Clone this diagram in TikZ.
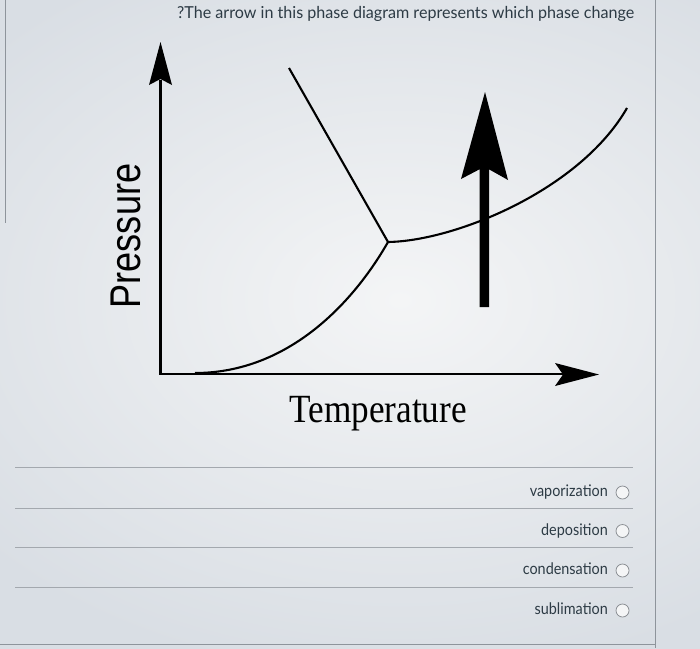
\documentclass[tikz,border=0pt]{standalone}
\usepackage{fontspec}
\setmainfont{Lato}
\newfontfamily\axsans{Liberation Sans}
\newfontfamily\axserif{Liberation Serif}
\usepackage{graphicx}
\definecolor{uitext}{HTML}{2D3B45}
\definecolor{rulec}{HTML}{A3A8AE}
\definecolor{framec}{HTML}{8E949B}
\definecolor{bgout}{HTML}{D9DEE4}
\definecolor{bgin}{HTML}{F4F5F6}
\definecolor{radioc}{HTML}{8C9095}
\newcommand{\sq}[1]{\scalebox{0.9}[1]{#1}}
\begin{document}
\begin{tikzpicture}[x=1pt,y=-1pt,
  curve/.style={draw=black,line width=2.1pt},
  axisline/.style={draw=black,line width=2.2pt,line join=miter},
  head/.style={fill=black},
  rulel/.style={draw=rulec,line width=0.9pt},
  framel/.style={draw=framec,line width=1pt},
  option/.style={anchor=base east,inner sep=0pt,text=uitext,font=\fontsize{16}{18}\selectfont},
  radio/.style={draw=radioc,line width=0.8pt,fill=bgin}]
\useasboundingbox (0,0) rectangle (700,648);
\shade[inner color=bgin,outer color=bgout] (-150,-80) rectangle (950,680);
% frame lines
\draw[framel] (5,0) -- (5,223);
\draw[framel] (655,0) -- (655,648);
\draw[framel] (0,644) -- (655,644);
% separators
\foreach \yy in {467,508,547,587}{\draw[rulel] (15,\yy) -- (633,\yy);}
% title
\node[anchor=base west,inner sep=0pt,text=uitext,font=\fontsize{16.5}{19}\selectfont] (title) at (177,18.5) {\resizebox{457pt}{\height}{?The arrow in this phase diagram represents which phase change}};
% axes
\draw[axisline] (160.5,80) -- (160.5,374) -- (565,374);
\fill[head] (160.5,42) -- (172,85) -- (160.5,79) -- (149,85) -- cycle;
\fill[head] (599,374.5) -- (555,386) -- (563,374.5) -- (555,363) -- cycle;
% phase boundaries
\draw[curve] (289,68) -- (388,242);
\draw[curve] (195,373) .. controls (290,373) and (355,300) .. (388,242);
\draw[curve] (388,242) .. controls (455,241) and (580,190) .. (627,108);
% thick arrow
\fill[head] (479.5,307) -- (479.5,169.3) -- (461,179) -- (485,92) -- (508,180) -- (489,169.3) -- (489,307) -- cycle;
% axis labels
\node[rotate=90,inner sep=0pt,font=\axsans\fontsize{43}{46}\selectfont,text=black] (pres) at (126,236) {\scalebox{0.84}[1]{Pressure}};
\node[anchor=base,inner sep=0pt,font=\axserif\fontsize{40}{44}\selectfont,text=black] (temp) at (378,422) {\scalebox{0.88}[1]{Temperature}};
% options
\node[option] (o1) at (608,496) {\sq{vaporization}};
\node[option] (o2) at (608,535) {\sq{deposition}};
\node[option] (o3) at (608,574) {\sq{condensation}};
\node[option] (o4) at (608,614) {\sq{sublimation}};
\draw[radio] (622.5,492.5) circle (6.5);
\draw[radio] (622.5,531) circle (6.5);
\draw[radio] (622.5,570.5) circle (6.5);
\draw[radio] (622.5,610.5) circle (6.5);
\end{tikzpicture}
\end{document}
